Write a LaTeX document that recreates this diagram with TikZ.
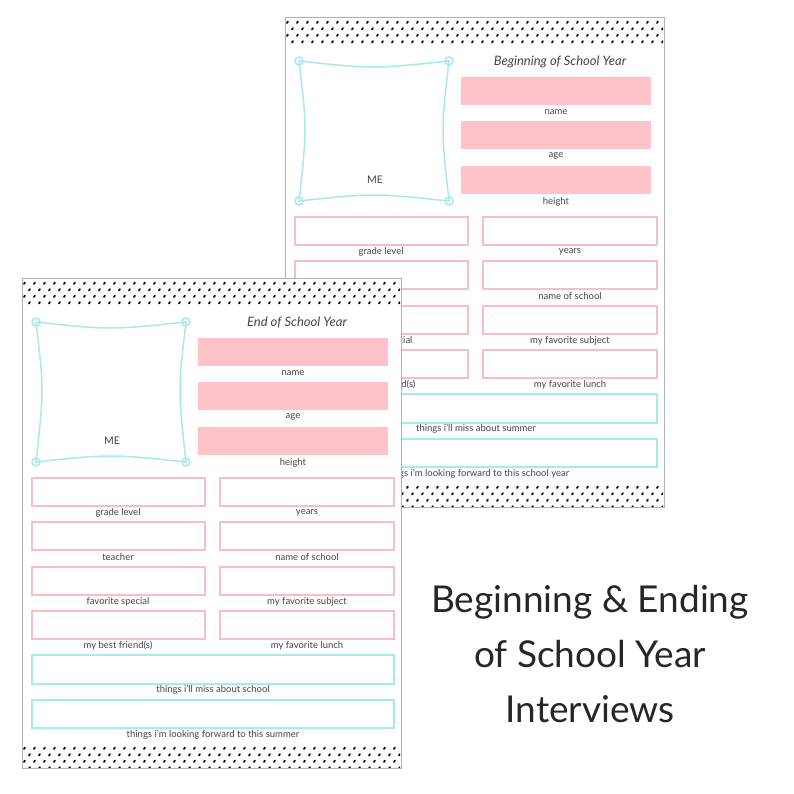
\documentclass[tikz,border=0pt]{standalone}
\usepackage{fontspec}
\setmainfont{Lato}
\definecolor{pinkf}{HTML}{FFC2C8}
\definecolor{pinkl}{HTML}{F7BFC4}
\definecolor{aqua}{HTML}{A8EAE4}
\definecolor{txt}{HTML}{444444}
\tikzset{
  pbar/.style={fill=pinkf,draw=none},
  pbox/.style={draw=pinkl,line width=1.2pt,fill=white},
  abox/.style={draw=aqua,line width=1.2pt,fill=white},
  lbl/.style={font=\fontsize{9.5}{11}\selectfont,text=txt,inner sep=0pt},
  frm/.style={draw=aqua,line width=1.5pt},
  dot/.style={line width=1.8pt,line cap=round,black}
}
\newcommand{\sheet}[5]{%
\begin{scope}[shift={(#1,#2)}]
  \node[draw=gray!60,line width=0.8pt,fill=white,minimum width=379pt,minimum height=490pt,anchor=north west,inner sep=0pt] (pg) at (22,278) {};
  \begin{scope}
    \clip (23,280) rectangle (400,305);
    \foreach \r in {0,...,3}{\foreach \c in {0,...,38}{
      \pgfmathsetmacro{\xx}{24+\c*10+mod(\r,2)*5}
      \pgfmathsetmacro{\yy}{284+\r*6.5}
      \draw[dot] (\xx,\yy) -- ++(0.9,-1.4);}}
  \end{scope}
  \begin{scope}
    \clip (23,746) rectangle (400,767);
    \foreach \r in {0,...,3}{\foreach \c in {0,...,38}{
      \pgfmathsetmacro{\xx}{24+\c*10+mod(\r,2)*5}
      \pgfmathsetmacro{\yy}{749+\r*6.5}
      \draw[dot] (\xx,\yy) -- ++(0.9,-1.4);}}
  \end{scope}
  % frame
  \draw[frm] (36,322) .. controls (110,330) .. (186,322)
             .. controls (178,390) .. (186,462)
             .. controls (110,454) .. (36,462)
             .. controls (44,390) .. (36,322);
  \foreach \px/\py in {36/322,186/322,186/462,36/462}{
    \draw[frm] (\px,\py) circle (4);}
  \node[lbl,font=\fontsize{10.5}{12}\selectfont] (me) at (112,441) {ME};
  \node[font=\itshape\fontsize{13}{15}\selectfont,text=txt] (tt) at (297,323) {#3};
  \fill[pbar] (198,338) rectangle (388,366);
  \fill[pbar] (198,382) rectangle (388,410);
  \fill[pbar] (198,427) rectangle (388,455);
  \node[lbl] at (293,373) {name};
  \node[lbl] at (293,417) {age};
  \node[lbl] at (293,463) {height};
  \foreach \y/\la/\lb in {478/grade level/years,522/teacher/name of school,567/favorite special/my favorite subject,611/my best friend(s)/my favorite lunch}{
    \draw[pbox] (32,\y) rectangle (205,\y+28);
    \draw[pbox] (220,\y) rectangle (394,\y+28);
    \node[lbl] at (118,\y+35) {\la};
    \node[lbl] at (307,\y+35) {\lb};}
  \draw[abox] (32,655) rectangle (394,684);
  \draw[abox] (32,700) rectangle (394,728);
  \node[lbl] at (213,690) {#4};
  \node[lbl] at (213,735) {#5};
\end{scope}}
\begin{document}
\begin{tikzpicture}[x=1pt,y=-1pt]
\useasboundingbox[fill=white] (0,0) rectangle (794,794);
\sheet{263}{-261}{Beginning of School Year}{things i'll miss about summer}{things i'm looking forward to this school year}
\sheet{0}{0}{End of School Year}{things i'll miss about school}{things i'm looking forward to this summer}
\node[font=\fontsize{37}{55}\selectfont,text=black!85,align=center] (cap) at (590,654) {Beginning \& Ending\\of School Year\\Interviews};
\end{tikzpicture}
\end{document}
